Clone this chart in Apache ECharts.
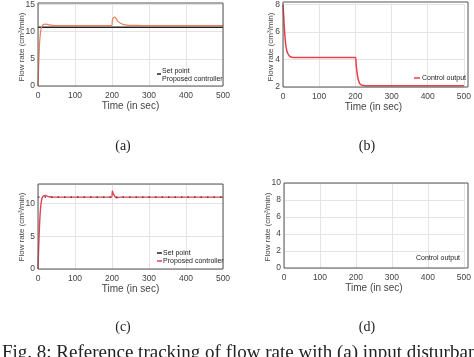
<!DOCTYPE html>
<html><head><meta charset="utf-8">
<script src="https://cdn.jsdelivr.net/npm/echarts@6/dist/echarts.min.js"></script>
<style>html,body{margin:0;padding:0;background:#fff}#c{width:474px;height:357px}</style>
</head><body><div id="c"></div>
<script>
// Panel (a)
const aSetT = [0, 500];
const aSetV = [10.8, 10.8];
const aRespT = [0, 2, 4, 6, 8, 10, 13, 16, 20, 25, 30, 40, 60, 100, 150, 199, 201, 204, 207, 210, 214, 218, 224, 232, 240, 260, 300, 400, 500];
const aRespV = [0, 4, 7.5, 9.4, 10.4, 10.9, 11.2, 11.35, 11.4, 11.35, 11.25, 11.15, 11.1, 11.1, 11.1, 11.1, 12.1, 12.6, 12.7, 12.5, 12.1, 11.8, 11.5, 11.3, 11.2, 11.15, 11.1, 11.1, 11.1];
// Panel (b)
const bT = [0, 2, 4, 6, 8, 11, 14, 18, 22, 28, 40, 100, 150, 200, 202, 204, 206, 209, 212, 216, 220, 226, 240, 300, 400, 500];
const bV = [8, 7.1, 6.2, 5.5, 5.0, 4.6, 4.4, 4.25, 4.18, 4.15, 4.15, 4.15, 4.15, 4.15, 3.7, 3.2, 2.8, 2.45, 2.25, 2.15, 2.12, 2.1, 2.1, 2.1, 2.1, 2.1];
// Panel (c)
const cSetT = [0, 500];
const cSetV = [11, 11];
const cRespT = [0, 2, 4, 6, 8, 10, 12, 15, 20, 25, 30, 40, 100, 199, 201, 203, 206, 209, 212, 216, 222, 300, 400, 500];
const cRespV = [0, 3.5, 6.5, 8.6, 9.9, 10.6, 11.0, 11.2, 11.25, 11.15, 11.05, 11.0, 11.0, 11.0, 11.95, 11.6, 11.25, 11.0, 10.9, 10.95, 11.0, 11.0, 11.0, 11.0];
// Panel (d): no plotted line visible
const xTicks = [0, 100, 200, 300, 400, 500];

const zip = (t, v) => t.map((x, i) => [x, v[i]]);
const txt = '#444';
const grids = [
  {left: 38, top: 3, width: 185, height: 83},
  {left: 283, top: 2, width: 185, height: 85},
  {left: 38, top: 184, width: 185, height: 85},
  {left: 284, top: 183, width: 184, height: 85}
];
const yCfg = [
  {min: 0, max: 15, interval: 5, showMax: true, nx: 22, ny: 47},
  {min: 2, max: 8, interval: 2, showMax: true, nx: 271, ny: 47},
  {min: 0, max: 13, interval: 5, showMax: false, nx: 22, ny: 227},
  {min: 0, max: 10, interval: 2, showMax: true, nx: 268, ny: 227}
];
const font = 'Liberation Sans';
const xAxis = grids.map((g, i) => ({
  type: 'value', gridIndex: i, min: 0, max: 500, interval: 100,
  name: 'Time (in sec)', nameLocation: 'middle', nameGap: 15,
  nameTextStyle: {fontSize: 10, color: txt, fontFamily: font},
  axisLine: {show: false}, axisTick: {show: false},
  axisLabel: {fontSize: 8.5, color: txt, margin: 5, fontFamily: font},
  splitLine: {lineStyle: {color: '#e4e4e4', width: 1}}
}));
const yAxis = grids.map((g, i) => ({
  type: 'value', gridIndex: i, min: yCfg[i].min, max: yCfg[i].max, interval: yCfg[i].interval,
  axisLine: {show: false}, axisTick: {show: false},
  axisLabel: {fontSize: 8.5, color: txt, margin: 3, fontFamily: font, showMaxLabel: yCfg[i].showMax},
  splitLine: {lineStyle: {color: '#e4e4e4', width: 1}}
}));
const border = grids.map(g => ({
  type: 'rect', shape: {x: g.left, y: g.top, width: g.width, height: g.height},
  style: {fill: 'none', stroke: '#555', lineWidth: 1}, z: 100
}));
const yNames = yCfg.map(c => ({
  type: 'text', x: c.nx, y: c.ny, rotation: Math.PI / 2,
  style: {text: 'Flow rate (cm³/min)', fontSize: 8, fontFamily: font, fill: txt, align: 'center', verticalAlign: 'middle'}, z: 101
}));
const tStyle = (x, y, text, size, family, align) => ({
  type: 'text', x, y, style: {text, fontSize: size, fontFamily: family, fill: '#222', align: align || 'center', verticalAlign: 'middle'}, z: 101
});
const option = {
  animation: false,
  grid: grids,
  xAxis, yAxis,
  series: [
    {type: 'line', xAxisIndex: 0, yAxisIndex: 0, data: zip(aSetT, aSetV), showSymbol: false, lineStyle: {color: '#222', width: 1.5}},
    {type: 'line', xAxisIndex: 0, yAxisIndex: 0, data: zip(aRespT, aRespV), showSymbol: false, smooth: 0.3, lineStyle: {color: '#e8805a', width: 1.2}},
    {type: 'line', xAxisIndex: 1, yAxisIndex: 1, data: zip(bT, bV), showSymbol: false, smooth: 0.3, lineStyle: {color: '#e8404a', width: 1.5}},
    {type: 'line', xAxisIndex: 2, yAxisIndex: 2, data: zip(cRespT, cRespV), showSymbol: false, smooth: 0.3, lineStyle: {color: '#e84050', width: 1.4}},
    {type: 'line', xAxisIndex: 2, yAxisIndex: 2, data: zip(cSetT, cSetV), showSymbol: false, z: 3, lineStyle: {color: '#333', width: 1.2, type: [1.5, 5]}}
  ],
  graphic: border.concat(yNames).concat([
    // legend (a)
    {type: 'line', shape: {x1: 157, y1: 74, x2: 161, y2: 74}, style: {stroke: '#222', lineWidth: 1.5}, z: 101},
    tStyle(162, 71, 'Set point', 7, font, 'left'),
    tStyle(162, 79, 'Proposed controller', 7, font, 'left'),
    // legend (b)
    {type: 'line', shape: {x1: 414, y1: 78, x2: 420, y2: 78}, style: {stroke: '#e8404a', lineWidth: 1.5}, z: 101},
    tStyle(422, 78, 'Control output', 7, font, 'left'),
    // legend (c)
    {type: 'line', shape: {x1: 157, y1: 253, x2: 162, y2: 253}, style: {stroke: '#222', lineWidth: 1.5}, z: 101},
    tStyle(163, 253, 'Set point', 7, font, 'left'),
    {type: 'line', shape: {x1: 157, y1: 261, x2: 162, y2: 261}, style: {stroke: '#e84050', lineWidth: 1.5}, z: 101},
    tStyle(163, 261, 'Proposed controller', 7, font, 'left'),
    // legend (d)
    tStyle(416, 258, 'Control output', 7, font, 'left'),
    // panel captions
    tStyle(123, 146, '(a)', 14, 'Liberation Serif'),
    tStyle(367, 146, '(b)', 14, 'Liberation Serif'),
    tStyle(123, 327, '(c)', 14, 'Liberation Serif'),
    tStyle(367, 327, '(d)', 14, 'Liberation Serif'),
    tStyle(2, 353, 'Fig. 8: Reference tracking of flow rate with (a) input disturbance', 19, 'Liberation Serif', 'left')
  ])
};
echarts.init(document.getElementById('c'), null, {renderer: 'canvas'}).setOption(option);
</script></body></html>
